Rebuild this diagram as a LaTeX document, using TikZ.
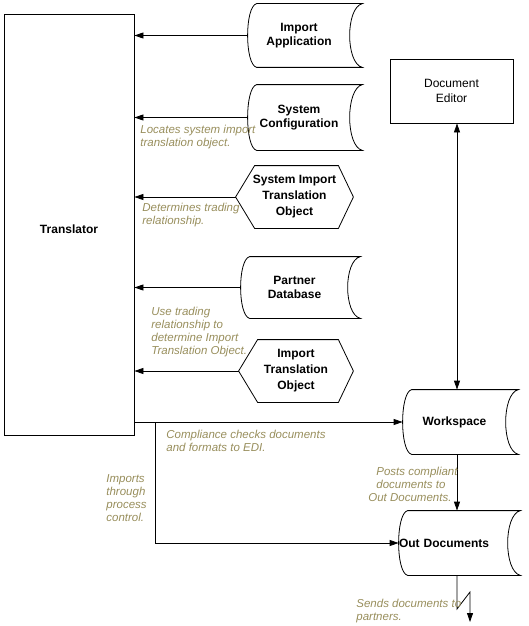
\documentclass[tikz,border=0pt]{standalone}
\usepackage{fontspec}
\setmainfont{Liberation Sans}
\usetikzlibrary{arrows.meta}

\definecolor{notecol}{RGB}{152,142,92}

\begin{document}
\begin{tikzpicture}[x=1pt, y=-1pt, line width=0.8pt,
	lbl/.style={align=center, inner sep=0pt, font=\bfseries\fontsize{12}{14}\selectfont},
	store/.style={lbl},
	hexa/.style={lbl, font=\bfseries\fontsize{12}{16}\selectfont},
	note/.style={anchor=north west, align=left, inner sep=0pt, text=notecol,
	  font=\itshape\fontsize{11.5}{13}\selectfont},
	arr/.style={-{Triangle[length=9pt,width=6pt]}},
	both/.style={{Triangle[length=9pt,width=6pt]}-{Triangle[length=9pt,width=6pt]}}]

	\useasboundingbox (0,0) rectangle (528,626);

	% plain boxes
	\node[draw, lbl, minimum width=130pt, minimum height=421pt] (trans) at (69,224.5) {\raisebox{-8.5pt}[0pt][0pt]{Translator}};
	\node[draw, lbl, font=\fontsize{12}{15}\selectfont, minimum width=123pt, minimum height=64pt] (doced) at (451.5,91) {Document\\Editor};

	% stored data
	\node[store, minimum width=102pt, minimum height=63pt] (impapp) at (299,35.5) {Import\\Application};
	\node[store, minimum width=102pt, minimum height=65pt] (syscfg) at (299,117.5) {System\\Configuration};
	\node[store, minimum width=107pt, minimum height=61pt] (partner) at (294.5,287.5) {Partner\\Database};
	\node[store, minimum width=103pt, minimum height=64pt] (wksp) at (454.5,422) {Workspace};
	\node[store, text width=109pt, align=left, minimum height=64pt] (outdoc) at (453.5,543) {Out Documents};

	\foreach \n in {impapp,syscfg,partner,wksp,outdoc}
	{
	  \draw ([xshift=9]\n.north west) -- ([xshift=12]\n.north east)
	    .. controls ([xshift=-5,yshift=-4]\n.north east) and ([xshift=-5,yshift=4]\n.south east) .. ([xshift=12]\n.south east)
	    -- ([xshift=9]\n.south west)
	    .. controls ([xshift=-3,yshift=3]\n.south west) and ([xshift=-3,yshift=-3]\n.north west) .. cycle;
	}

	% translation objects
	\node[hexa, minimum width=117pt, minimum height=62pt] (sito) at (294.5,197) {System Import\\Translation\\Object};
	\node[hexa, minimum width=114pt, minimum height=62pt] (ito) at (296,371) {Import\\Translation\\Object};

	\foreach \n in {sito,ito}
	{
	  \draw (\n.west) -- ([xshift=19]\n.north west) -- ([xshift=-15]\n.north east) -- (\n.east)
	    -- ([xshift=-15]\n.south east) -- ([xshift=19]\n.south west) -- cycle;
	}

	% inputs to the translator
	\foreach \n in {impapp,syscfg,sito,partner,ito}
	{
	  \draw[arr] (\n.west) -- (\n.west -| trans.east);
	}

	% outputs
	\coordinate (split) at (155,422);
	\coordinate (wtop) at ([xshift=2.5]wksp.north);
	\coordinate (wbot) at ([xshift=2.5]wksp.south);
	\draw[arr] (wksp.west -| trans.east) -- (wksp.west);
	\draw[arr] (split) |- (outdoc.west);
	\draw[both] (wtop) -- (wtop |- doced.south);
	\draw[arr] (wbot) -- (wbot |- outdoc.north);

	\coordinate (zig) at (457,609);
	\coordinate (zag) at (470,592);
	\coordinate (sendend) at (470,622);
	\draw[arr] (wbot |- outdoc.south) -- (zig) -- (zag) -- (sendend);

	% notes
	\node[note] (locnote) at (140,125) {Locates system import\\translation object.};
	\node[note] (detnote) at (142,203) {Determines trading\\relationship.};
	\node[note] (usenote) at (151,307) {Use trading\\relationship to\\determine Import\\Translation Object.};
	\node[note] (compnote) at (166,430) {Compliance checks documents\\and formats to EDI.};
	\node[note] (impnote) at (106,474) {Imports\\through\\process\\control.};
	\node[note] (postnote) at (368,467) {\hspace*{8pt}Posts compliant\\\hspace*{8pt}documents to\\Out Documents.};
	\node[note] (sendnote) at (356,599) {Sends documents to\\partners.};
\end{tikzpicture}
\end{document}
